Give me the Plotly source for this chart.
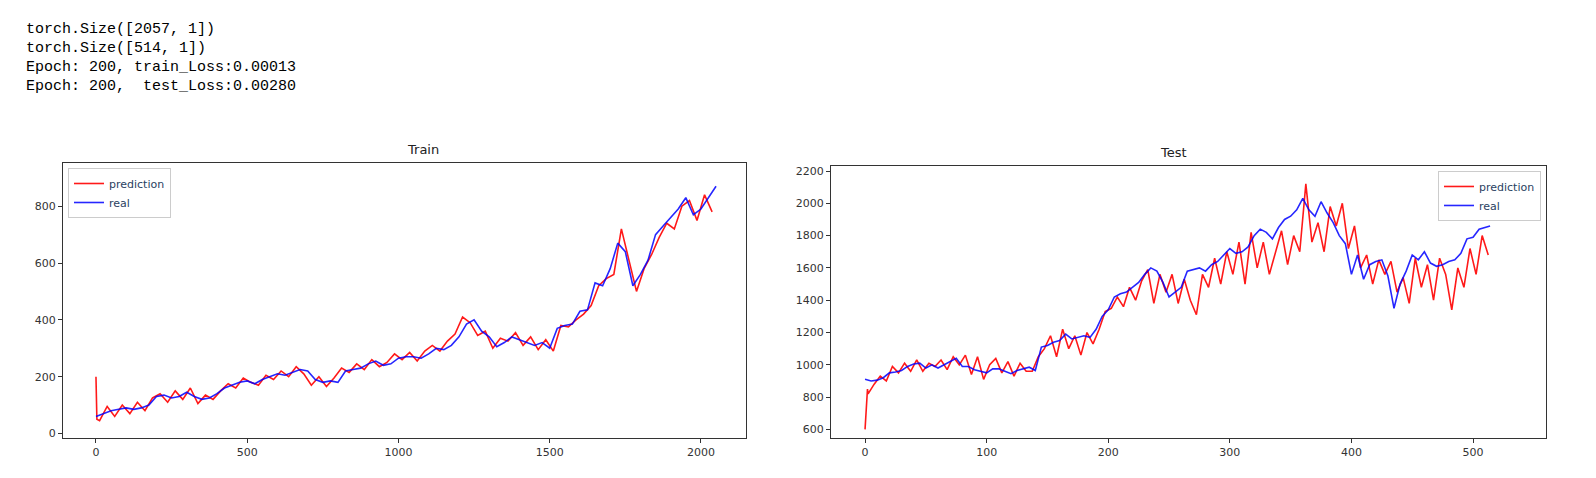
import plotly.graph_objects as go

# ---- Train data ----
train_real_x = list(range(0, 2051, 25))
train_real_y = [60,70,80,85,90,85,90,100,130,135,125,130,145,130,120,125,140,160,170,180,
                185,175,190,200,210,205,215,225,220,190,180,185,180,220,225,230,245,255,240,245,
                265,270,270,265,280,300,295,310,340,385,400,360,340,305,320,340,330,320,310,320,
                300,370,380,385,430,435,530,520,580,670,640,520,560,610,700,730,760,790,830,770,
                790,830,870]
train_pred_x = [0, 3] + list(range(12, 2051, 25))
train_pred_y = [200, 50, 45,95,60,100,70,110,80,125,140,110,150,120,160,105,135,120,150,175,
                160,195,180,170,205,190,220,200,235,210,170,200,165,195,230,215,245,225,260,235,
                250,280,260,285,255,290,310,290,325,350,410,390,345,360,300,335,325,355,310,340,
                295,330,290,380,375,400,420,450,520,545,560,720,610,500,580,630,690,740,720,800,
                820,750,840,780,860,890]
train_pred_y = train_pred_y[:len(train_pred_x)]

# ---- Test data ----
test_real_x = list(range(0, 511, 5)) + [514]
test_real_y = [910,900,905,920,950,955,965,990,1005,1010,980,1000,980,1000,1020,1040,990,990,970,960,
               950,975,975,960,945,965,975,985,965,1110,1120,1140,1150,1190,1160,1170,1180,1170,1220,1300,
               1340,1420,1440,1450,1480,1510,1560,1600,1580,1510,1420,1450,1480,1580,1590,1600,1580,1620,1640,1680,
               1720,1690,1700,1730,1800,1840,1820,1780,1850,1900,1920,1960,2030,1960,1920,2010,1940,1880,1800,1750,
               1560,1680,1530,1620,1640,1650,1550,1350,1500,1580,1680,1650,1700,1630,1610,1620,1640,1650,1690,1780,
               1790,1840,1850,1860]
test_pred_x = [0, 2] + [x + 2.5 for x in range(0, 511, 5)]
test_pred_y = [600, 850, 820, 880, 930, 900, 990, 950, 1010, 960, 1030, 960, 1010, 990, 1030, 970, 1050, 1000, 1060, 940,
               1050, 910, 1000, 1040, 950, 1020, 930, 1010, 960, 960, 1050, 1100, 1180, 1050, 1220, 1100, 1180, 1060, 1200, 1130,
               1220, 1330, 1350, 1420, 1360, 1480, 1400, 1520, 1590, 1380, 1560, 1450, 1560, 1380, 1530, 1400, 1310, 1560, 1480, 1660,
               1500, 1700, 1560, 1760, 1500, 1820, 1600, 1760, 1560, 1700, 1830, 1620, 1800, 1700, 2120, 1760, 1880, 1700, 1980, 1860,
               2000, 1720, 1860, 1600, 1680, 1500, 1650, 1560, 1640, 1450, 1540, 1380, 1660, 1480, 1620, 1400, 1660, 1560, 1340, 1600,
               1480, 1720, 1560, 1800, 1680]
test_pred_y = test_pred_y[:len(test_pred_x)]

header_lines = ["torch.Size([2057, 1])", "torch.Size([514, 1])",
                "Epoch: 200, train_Loss:0.00013", "Epoch: 200,  test_Loss:0.00280"]

fig = go.Figure()
fig.add_trace(go.Scatter(x=train_pred_x, y=train_pred_y, mode="lines", name="prediction",
                         line=dict(color="rgba(255,0,0,0.9)", width=1.6), xaxis="x", yaxis="y"))
fig.add_trace(go.Scatter(x=train_real_x, y=train_real_y, mode="lines", name="real",
                         line=dict(color="rgba(0,0,255,0.85)", width=1.6), xaxis="x", yaxis="y"))
fig.add_trace(go.Scatter(x=test_pred_x, y=test_pred_y, mode="lines", name="prediction",
                         line=dict(color="rgba(255,0,0,0.9)", width=1.6), xaxis="x2", yaxis="y2", legend="legend2"))
fig.add_trace(go.Scatter(x=test_real_x, y=test_real_y, mode="lines", name="real",
                         line=dict(color="rgba(0,0,255,0.85)", width=1.6), xaxis="x2", yaxis="y2", legend="legend2"))

W, H = 1596, 478
ax = dict(showgrid=False, zeroline=False, showline=True, linecolor="#333", mirror=True,
          ticks="outside", ticklen=4, tickcolor="#333", tickfont=dict(size=11, color="#333", family="DejaVu Sans"))
leg = dict(bgcolor="rgba(255,255,255,0.8)", bordercolor="#ccc", borderwidth=1,
           font=dict(size=11, family="DejaVu Sans"), yanchor="top")
fig.update_layout(
    width=W, height=H, margin=dict(l=0, r=0, t=0, b=0),
    paper_bgcolor="white", plot_bgcolor="white",
    xaxis=dict(ax, domain=[55/W, 738/W], range=[-109, 2149], tickvals=[0,500,1000,1500,2000]),
    yaxis=dict(ax, domain=[1-432/H, 1-155/H], range=[-17, 952], tickvals=[0,200,400,600,800]),
    xaxis2=dict(ax, domain=[823/W, 1538/W], range=[-28, 560], tickvals=[0,100,200,300,400,500], anchor="y2"),
    yaxis2=dict(ax, domain=[1-432/H, 1-158/H], range=[545, 2231], tickvals=list(range(600, 2201, 200)), anchor="x2"),
    legend=dict(leg, x=60/W, y=1-160/H, xanchor="left"),
    legend2=dict(leg, x=1533/W, y=1-163/H, xanchor="right"),
    showlegend=True,
)

anns = []
for i, t in enumerate(header_lines):
    anns.append(dict(text=t, x=16/W, y=1-(21+19*i)/H, xref="paper", yref="paper", xanchor="left",
                     yanchor="middle", showarrow=False, font=dict(family="Liberation Mono", size=15, color="black")))
anns.append(dict(text="Train", x=(55+738)/2/W, y=1-151/H, xref="paper", yref="paper", showarrow=False,
                 yanchor="bottom", font=dict(size=13, color="#222", family="DejaVu Sans")))
anns.append(dict(text="Test", x=(823+1538)/2/W, y=1-154/H, xref="paper", yref="paper", showarrow=False,
                 yanchor="bottom", font=dict(size=13, color="#222", family="DejaVu Sans")))
fig.update_layout(annotations=anns)
fig.write_html("out.html")
